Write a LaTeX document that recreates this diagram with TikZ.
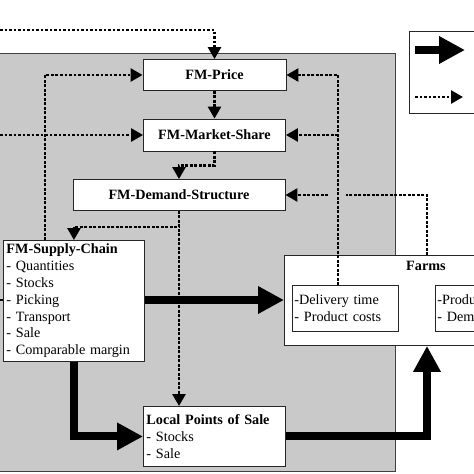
\documentclass[tikz,border=0pt]{standalone}
\usepackage{fontspec}
\setmainfont{Liberation Serif}
\usetikzlibrary{arrows.meta,positioning}

\tikzset{
  box/.style     = {draw=black!85, fill=white, line width=.9pt, inner sep=3pt,
                    font=\fontsize{14.2}{16.8}\selectfont},
  ctrl/.style    = {line width=2.7pt, dash pattern=on 2.6pt off 1.9pt,
                    -{Triangle[length=12pt,width=13pt]}},
  ctrlend/.style = {line width=2.7pt, dash pattern=on 2.6pt off 1.9pt},
  flow/.style    = {line width=8pt, -{Triangle[length=26pt,width=26pt]}}
}

\begin{document}
\begin{tikzpicture}[x=1pt,y=-1pt]

\useasboundingbox (0,0) rectangle (474,474);
\clip (0,0) rectangle (474,474);

\filldraw[fill=black!21, draw=black!75, line width=.9pt] (-10,53) rectangle (395,471);

\node[box, minimum width=143pt, minimum height=31pt, font=\fontsize{14.2}{16.8}\selectfont\bfseries]
  (price) at (214.5,75) {FM-Price};
\node[box, minimum width=142pt, minimum height=32pt, font=\fontsize{14.2}{16.8}\selectfont\bfseries]
  (share) at (214.5,135) {FM-Market-Share};
\node[box, minimum width=212pt, minimum height=31pt, font=\fontsize{14.2}{16.8}\selectfont\bfseries]
  (demand) at (179,195) {FM-Demand-Structure};

\node[box, anchor=north west, text width=135pt, minimum height=121pt, align=left]
  (supply) at (3,240) {\textbf{FM-Supply-Chain}\\- Quantities\\- Stocks\\- Picking\\- Transport\\- Sale\\- Comparable margin};
\node[box, anchor=north west, text width=136pt, minimum height=60pt, align=left]
  (lps) at (143,406) {\textbf{Local Points of Sale}\\- Stocks\\- Sale};

\node[box, anchor=north west, minimum width=283pt, minimum height=90pt,
  label={[anchor=north, yshift=-3pt, font=\fontsize{14.2}{16.8}\selectfont\bfseries]north:Farms}]
  (farms) at (284,255) {};
\node[box, anchor=north west, text width=102pt, minimum height=46pt, align=left, inner sep=2pt]
  (dlv) at (292,285) {-Delivery time\\- Product costs};
\node[box, anchor=north west, text width=102pt, minimum height=46pt, align=left, inner sep=2pt]
  (prd) at (435,285) {-Produ\\- Dem};

\node[box, anchor=north west, minimum width=110pt, minimum height=82pt] (legend) at (409,31) {};
\coordinate (lgfa) at (415,50);
\coordinate (lgfb) at (465,50);
\coordinate (lgca) at (415,97);
\coordinate (lgcb) at (463,97);
\draw[flow] (lgfa) -- (lgfb);
\draw[ctrl] (lgca) -- (lgcb);

\coordinate (lx) at (0,0);
\coordinate (lv) at (45,0);
\coordinate (rv) at (338,0);
\coordinate (fv) at (427,0);
\coordinate (topin) at (0,30);
\coordinate (fl) at (0,300);
\coordinate (gapr) at (346,195);
\coordinate (gapl) at (328,195);

\draw[ctrl] (topin) -| (price.north);
\draw[ctrl] (price.south) -- (share.north);
\draw[ctrl] (supply.north -| lv) |- (price.west);
\draw[ctrl] (dlv.north -| rv) |- (price.east);
\draw[ctrl] (share.west -| lx) -- (share.west);
\draw[ctrl] (share.east -| rv) -- (share.east);
\draw[ctrl] (share.south) -- ++(0,14) -| (demand.north);
\draw[ctrlend] (farms.north -| fv) |- (gapr);
\draw[ctrl] (gapl) -- (demand.east);
\draw[ctrl] (demand.south) -- ++(0,16) -| (supply.north);
\draw[ctrl] (demand.south) -- (demand.south |- lps.north);
\draw[ctrlend] (fl) -- (supply.west |- fl);

\draw[flow] (supply.east |- fl) -- (farms.west |- fl);
\draw[flow] (supply.south) |- (lps.west);
\draw[flow] (lps.east) -| (farms.south -| fv);

\end{tikzpicture}
\end{document}
